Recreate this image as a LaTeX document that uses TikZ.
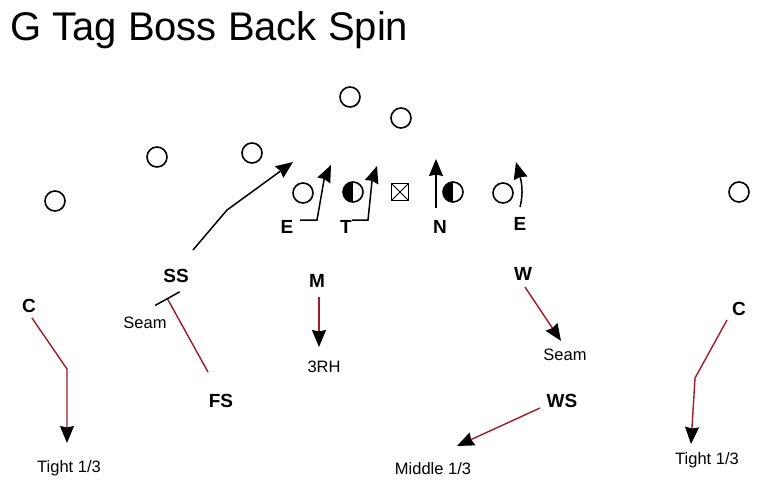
\documentclass[tikz,border=0pt]{standalone}
\usepackage{fontspec}
\setmainfont{Liberation Sans}
\usetikzlibrary{arrows.meta}
\definecolor{routered}{RGB}{158,28,40}
\begin{document}
\begin{tikzpicture}[x=1pt,y=-1pt,
    man/.style={draw, circle, minimum size=20pt, inner sep=0pt, line width=1.6pt},
    half/.style={man, path picture={\fill (path picture bounding box.north) rectangle (path picture bounding box.south west);}},
    ctr/.style={draw, rectangle, minimum size=17pt, inner sep=0pt, line width=1.5pt,
      path picture={\draw[line width=1pt] (path picture bounding box.north west) -- (path picture bounding box.south east)
        (path picture bounding box.north east) -- (path picture bounding box.south west);}},
    dfd/.style={anchor=base, font=\bfseries\fontsize{19}{19}\selectfont, inner sep=0pt},
    job/.style={anchor=base, font=\fontsize{16.5}{17}\selectfont, inner sep=0pt},
    rt/.style={draw=routered, line width=1.4pt, -{Stealth[black, inset=1.5pt, length=17pt, width=14pt]}},
    blk/.style={line width=1.5pt, -{Stealth[inset=1.5pt, length=17pt, width=14pt]}}]
  \useasboundingbox (0,0) rectangle (759,479);

  \node[anchor=base west, font=\fontsize{40}{40}\selectfont, inner sep=0pt] (title) at (10,40) {G Tag Boss Back Spin};

  % offense
  \node[man] (wrL) at (55,201) {};
  \node[man] (slotL) at (157,157) {};
  \node[man] (teL) at (252,153) {};
  \node[man] (qb) at (350,97) {};
  \node[man] (rb) at (401,118) {};
  \node[man] (lg) at (303,193) {};
  \node[half] (lt) at (353,192) {};
  \node[ctr] (ctr) at (400,192) {};
  \node[half] (rt) at (453,192) {};
  \node[man] (rg) at (503,193) {};
  \node[man] (wrR) at (739,192) {};

  % defense
  \node[dfd] (E1) at (287,233) {E};
  \node[dfd] (T) at (346,233) {T};
  \node[dfd] (N) at (440,233) {N};
  \node[dfd] (E2) at (520,230) {E};
  \node[dfd] (SS) at (176,282) {SS};
  \node[dfd] (M) at (317,287) {M};
  \node[dfd] (W) at (523,280) {W};
  \node[dfd] (C1) at (29,312) {C};
  \node[dfd] (C2) at (739,315) {C};
  \node[dfd] (FS) at (221,407) {FS};
  \node[dfd] (WS) at (562,407) {WS};

  \node[job] (seamL) at (145,328) {Seam};
  \node[job] (threeRH) at (324,372) {3RH};
  \node[job] (seamR) at (565,360) {Seam};
  \node[job] (tightL) at (69,472) {Tight 1/3};
  \node[job] (middle) at (433,474) {Middle 1/3};
  \node[job] (tightR) at (707,464) {Tight 1/3};

  % route points
  \coordinate (e1a) at (300,220); \coordinate (e1b) at (317,220);
  \coordinate (e1c) at (324,180); \coordinate (e1tip) at (331,165);
  \coordinate (ta) at (352,220); \coordinate (tb) at (368,220);
  \coordinate (tc) at (372,181); \coordinate (ttip) at (377,166);
  \coordinate (na) at (436,208); \coordinate (ntip) at (436,159);
  \coordinate (e2a) at (520,207); \coordinate (e2tip) at (516,162);
  \coordinate (ssa) at (193,250); \coordinate (ssb) at (227,210); \coordinate (sstip) at (293,162);
  \coordinate (c1a) at (32,318); \coordinate (c1b) at (67,369); \coordinate (c1tip) at (67,443);
  \coordinate (fsa) at (208,372); \coordinate (fstip) at (167,298);
  \coordinate (ma) at (319,297); \coordinate (mtip) at (319,347);
  \coordinate (wa) at (525,287); \coordinate (wtip) at (561,341);
  \coordinate (wsa) at (540,408); \coordinate (wstip) at (457,446);
  \coordinate (c2a) at (727,320); \coordinate (c2b) at (695,378); \coordinate (c2tip) at (691,444);

  % front
  \draw[blk] (e1a) -- (e1b) -- (e1c) -- (e1tip);
  \draw[blk] (ta) -- (tb) -- (tc) -- (ttip);
  \draw[blk] (na) -- (ntip);
  \draw[blk] (e2a) .. controls (524,192) and (521,180) .. (e2tip);
  \draw[blk] (ssa) -- (ssb) -- (sstip);

  % coverage
  \draw[rt] (c1a) -- (c1b) -- (c1tip);
  \draw[draw=routered, line width=1.4pt, -{Bar[black, width=28pt, line width=1.5pt]}] (fsa) -- (fstip);
  \draw[rt] (ma) -- (mtip);
  \draw[rt] (wa) -- (wtip);
  \draw[rt] (wsa) -- (wstip);
  \draw[rt] (c2a) -- (c2b) -- (c2tip);
\end{tikzpicture}
\end{document}
